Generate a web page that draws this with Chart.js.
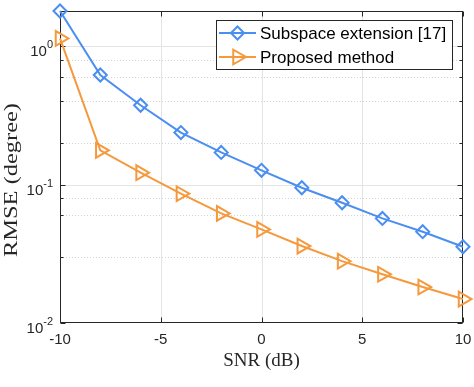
<!DOCTYPE html>
<html><head><meta charset="utf-8">
<script src="https://cdn.jsdelivr.net/npm/chart.js@4/dist/chart.umd.min.js"></script>
<style>html,body{margin:0;padding:0;background:#fff}#wrap{width:474px;height:387px;position:relative}</style>
</head><body><div id="wrap"><canvas id="c" width="474" height="387"></canvas></div>
<script>
const snr = [-10, -8, -6, -4, -2, 0, 2, 4, 6, 8, 10];
const subspaceExt = [1.8, 0.62, 0.375, 0.238, 0.171, 0.127, 0.095, 0.074, 0.057, 0.0457, 0.0356];
const proposed = [1.14, 0.177, 0.122, 0.086, 0.062, 0.0475, 0.036, 0.028, 0.0225, 0.0182, 0.0149];
const seriesNames = ['Subspace extension [17]', 'Proposed method'];
const xTicks = [-10, -5, 0, 5, 10];
const xTickLabels = ['-10', '-5', '0', '5', '10'];
const yMajorTicks = [0.01, 0.1, 1];
const yTickBases = ['10', '10', '10'];
const yTickExps = ['-2', '-1', '0'];
const xTitle = 'SNR (dB)';
const yTitle = 'RMSE (degree)';
const yMin = 0.01, yMax = 1.8;

const BLUE = '#4b8ef2';
const ORANGE = '#f5993c';
const AXIS = '#262626';

function seg(ctx, x1, y1, x2, y2) { ctx.beginPath(); ctx.moveTo(x1, y1); ctx.lineTo(x2, y2); ctx.stroke(); }
function isMajor(v) { return yMajorTicks.some(m => Math.abs(m - v) / m < 1e-6); }
function isDecadeMultiple(v) {
  const e = Math.floor(Math.log10(v) + 1e-9);
  const m = v / Math.pow(10, e);
  return Math.abs(m - Math.round(m)) < 1e-6;
}

const decoPlugin = {
  id: 'deco',
  beforeDatasetsDraw(chart) {
    const { ctx, chartArea: a, scales: { x, y } } = chart;
    ctx.save();
    ctx.lineWidth = 1;
    // minor y grid (dotted)
    const minors = y.ticks.map(t => t.value).filter(v => !isMajor(v) && isDecadeMultiple(v) && v < yMax);
    ctx.strokeStyle = '#d4d4d4';
    ctx.setLineDash([1, 2]);
    minors.forEach(v => { const py = Math.round(y.getPixelForValue(v)) + 0.5; seg(ctx, a.left, py, a.right, py); });
    ctx.setLineDash([]);
    // major grid (solid light)
    ctx.strokeStyle = '#e4e4e4';
    yMajorTicks.forEach(v => { const py = Math.round(y.getPixelForValue(v)) + 0.5; if (py > a.top + 1 && py < a.bottom - 1) seg(ctx, a.left, py, a.right, py); });
    xTicks.forEach(v => { const px = Math.round(x.getPixelForValue(v)) + 0.5; if (px > a.left + 1 && px < a.right - 1) seg(ctx, px, a.top, px, a.bottom); });
    // axes box
    ctx.strokeStyle = AXIS;
    const L = Math.round(a.left) + 0.5, R = Math.round(a.right) - 0.5, T = Math.round(a.top) + 0.5, B = Math.round(a.bottom) - 0.5;
    ctx.strokeRect(L, T, R - L, B - T);
    // ticks
    xTicks.forEach(v => { const px = Math.round(x.getPixelForValue(v)) + 0.5; seg(ctx, px, B, px, B - 5); seg(ctx, px, T, px, T + 5); });
    yMajorTicks.forEach(v => { const py = Math.round(y.getPixelForValue(v)) + 0.5; seg(ctx, L, py, L + 5, py); seg(ctx, R, py, R - 5, py); });
    minors.forEach(v => { const py = Math.round(y.getPixelForValue(v)) + 0.5; seg(ctx, L, py, L + 3, py); seg(ctx, R, py, R - 3, py); });
    // x tick labels
    ctx.fillStyle = AXIS;
    ctx.font = '15px "Liberation Sans", Arial, sans-serif';
    ctx.textAlign = 'center';
    ctx.textBaseline = 'alphabetic';
    xTicks.forEach((v, i) => { ctx.fillText(xTickLabels[i], x.getPixelForValue(v), a.bottom + 21); });
    // y tick labels with superscripts
    yMajorTicks.forEach((v, i) => {
      const py = y.getPixelForValue(v);
      const rightEdge = a.left - 7;
      ctx.font = '11px "Liberation Sans", Arial, sans-serif';
      const we = ctx.measureText(yTickExps[i]).width;
      ctx.textAlign = 'left';
      ctx.fillText(yTickExps[i], rightEdge - we, py + 2);
      ctx.font = '15px "Liberation Sans", Arial, sans-serif';
      ctx.textAlign = 'right';
      ctx.fillText(yTickBases[i], rightEdge - we, py + 10);
    });
    // axis titles
    ctx.font = '19px "Liberation Serif", "Times New Roman", serif';
    ctx.textAlign = 'center';
    ctx.fillText(xTitle, (a.left + a.right) / 2, a.bottom + 43);
    ctx.save();
    ctx.translate(17, 180);
    ctx.rotate(-Math.PI / 2);
    ctx.font = '18px "Liberation Serif", "Times New Roman", serif';
    const wt = ctx.measureText(yTitle).width;
    ctx.scale(154 / wt, 1);
    ctx.textAlign = 'center';
    ctx.fillText(yTitle, 0, 0);
    ctx.restore();
    ctx.restore();
  },
  afterDatasetsDraw(chart) {
    const { ctx } = chart;
    ctx.save();
    const bx = 216.5, by = 20.5, bw = 236, bh = 49;
    ctx.fillStyle = '#fff';
    ctx.fillRect(bx, by, bw, bh);
    ctx.strokeStyle = AXIS;
    ctx.lineWidth = 1;
    ctx.strokeRect(bx, by, bw, bh);
    const rows = [33, 57];
    chart.data.datasets.forEach((ds, i) => {
      const ry = rows[i];
      ctx.strokeStyle = ds.borderColor;
      ctx.lineWidth = 2;
      seg(ctx, 219, ry, 256, ry);
      const opts = { pointStyle: ds.pointStyle, radius: ds.pointRadius, rotation: ds.pointRotation || 0, borderWidth: 2 };
      ctx.strokeStyle = ds.borderColor;
      ctx.fillStyle = 'rgba(0,0,0,0)';
      Chart.helpers.drawPoint(ctx, opts, 237.5, ry);
      ctx.fillStyle = '#000';
      ctx.font = '17px "Liberation Sans", Arial, sans-serif';
      ctx.textAlign = 'left';
      ctx.textBaseline = 'middle';
      ctx.fillText(seriesNames[i], 260, ry + 1);
    });
    ctx.restore();
  }
};

new Chart(document.getElementById('c'), {
  type: 'line',
  data: {
    datasets: [
      {
        label: seriesNames[0],
        data: snr.map((s, i) => ({ x: s, y: subspaceExt[i] })),
        borderColor: BLUE, backgroundColor: BLUE, borderWidth: 2,
        pointStyle: 'rectRot', pointRadius: 6.5, pointBorderWidth: 2,
        pointBackgroundColor: 'rgba(0,0,0,0)', pointBorderColor: BLUE,
        tension: 0, clip: false
      },
      {
        label: seriesNames[1],
        data: snr.map((s, i) => ({ x: s, y: proposed[i] })),
        borderColor: ORANGE, backgroundColor: ORANGE, borderWidth: 2,
        pointStyle: 'triangle', pointRotation: 90, pointRadius: 8.5, pointBorderWidth: 2,
        pointBackgroundColor: 'rgba(0,0,0,0)', pointBorderColor: ORANGE,
        tension: 0, clip: false
      }
    ]
  },
  options: {
    responsive: false,
    animation: false,
    devicePixelRatio: 1,
    layout: { padding: { left: 60, right: 11, top: 11, bottom: 64 } },
    plugins: { legend: { display: false }, tooltip: { enabled: false } },
    events: [],
    scales: {
      x: { type: 'linear', min: -10, max: 10, ticks: { stepSize: 5 }, display: false },
      y: { type: 'logarithmic', min: yMin, max: yMax, display: false }
    }
  },
  plugins: [decoPlugin]
});
</script>
</body></html>
